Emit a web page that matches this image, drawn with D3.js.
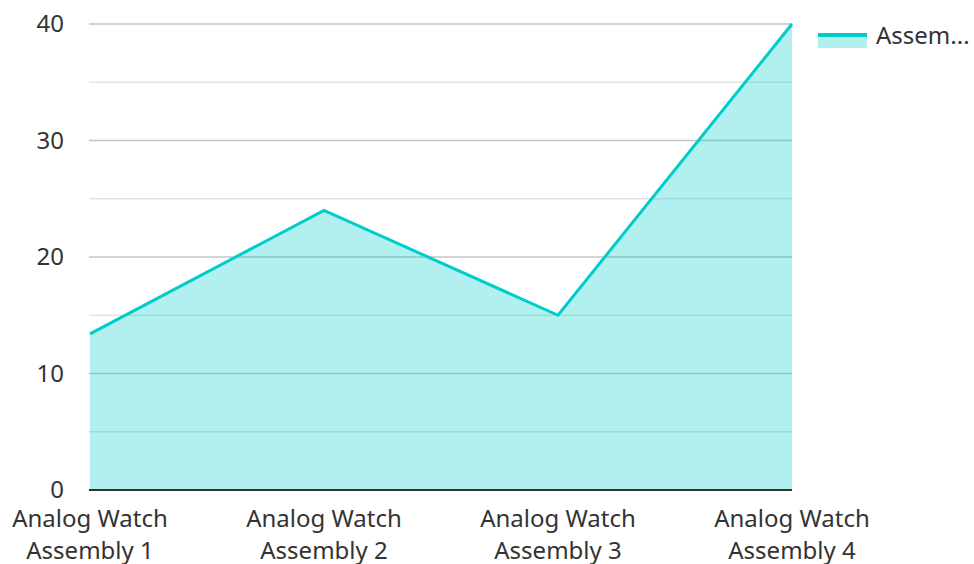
<!DOCTYPE html>
<html>
<head>
<meta charset="utf-8">
<script src="https://cdn.jsdelivr.net/npm/d3@7"></script>
<style>
  body { margin: 0; background: #fff; }
  svg text { font-family: "Noto Sans", "Open Sans", sans-serif; fill: #333; }
</style>
</head>
<body>
<div id="chart"></div>
<script>
const categories = ['Analog Watch Assembly 1', 'Analog Watch Assembly 2', 'Analog Watch Assembly 3', 'Analog Watch Assembly 4'];
const values = [13.4, 24, 15, 40];
const seriesName = 'Assembly';
const yTicks = [0, 10, 20, 30, 40];
const minorTicks = [5, 15, 25, 35];

const width = 974, height = 564;
const margin = { top: 24, right: 182, bottom: 74, left: 90 };
const color = '#00cccc';
const fontSize = 24;

const svg = d3.select('#chart').append('svg')
  .attr('width', width)
  .attr('height', height);

const x = d3.scalePoint()
  .domain(categories)
  .range([margin.left, width - margin.right]);

const y = d3.scaleLinear()
  .domain([0, 40])
  .range([height - margin.bottom, margin.top]);

// gridlines
svg.append('g')
  .selectAll('line')
  .data(minorTicks)
  .join('line')
  .attr('x1', margin.left - 1)
  .attr('x2', width - margin.right)
  .attr('y1', d => y(d))
  .attr('y2', d => y(d))
  .attr('stroke', '#e3e3e3')
  .attr('stroke-width', 1.5);

svg.append('g')
  .selectAll('line')
  .data(yTicks.filter(d => d !== 0))
  .join('line')
  .attr('x1', margin.left - 1)
  .attr('x2', width - margin.right)
  .attr('y1', d => y(d))
  .attr('y2', d => y(d))
  .attr('stroke', '#c4c4c4')
  .attr('stroke-width', 1.5);

// area + line
const area = d3.area()
  .x((d, i) => x(categories[i]))
  .y0(y(0))
  .y1(d => y(d));

const line = d3.line()
  .x((d, i) => x(categories[i]))
  .y(d => y(d));

svg.append('path')
  .datum(values)
  .attr('d', area)
  .attr('fill', color)
  .attr('fill-opacity', 0.3);

svg.append('path')
  .datum(values)
  .attr('d', line)
  .attr('fill', 'none')
  .attr('stroke', color)
  .attr('stroke-width', 3);

// x axis baseline
svg.append('line')
  .attr('x1', margin.left - 1)
  .attr('x2', width - margin.right)
  .attr('y1', y(0))
  .attr('y2', y(0))
  .attr('stroke', '#333')
  .attr('stroke-width', 2);

// y tick labels
svg.append('g')
  .selectAll('text')
  .data(yTicks)
  .join('text')
  .attr('x', 64)
  .attr('y', d => y(d))
  .attr('dy', '0.35em')
  .attr('text-anchor', 'end')
  .attr('font-size', fontSize)
  .text(d => d);

// x tick labels, wrapped in two lines
const xl = svg.append('g')
  .selectAll('text')
  .data(categories)
  .join('text')
  .attr('text-anchor', 'middle')
  .attr('font-size', fontSize);

xl.append('tspan')
  .attr('x', d => x(d))
  .attr('y', 527)
  .text(d => d.split(' ').slice(0, 2).join(' '));

xl.append('tspan')
  .attr('x', d => x(d))
  .attr('y', 559)
  .text(d => d.split(' ').slice(2).join(' '));

// legend
const legend = svg.append('g').attr('transform', 'translate(818, 33)');
legend.append('rect')
  .attr('width', 49).attr('height', 15)
  .attr('fill', color).attr('fill-opacity', 0.3);
legend.append('rect')
  .attr('width', 49).attr('height', 4)
  .attr('fill', color);
legend.append('text')
  .attr('x', 58)
  .attr('y', 3)
  .attr('dy', '0.35em')
  .attr('font-size', fontSize)
  .text('Assem...');
</script>
</body>
</html>
